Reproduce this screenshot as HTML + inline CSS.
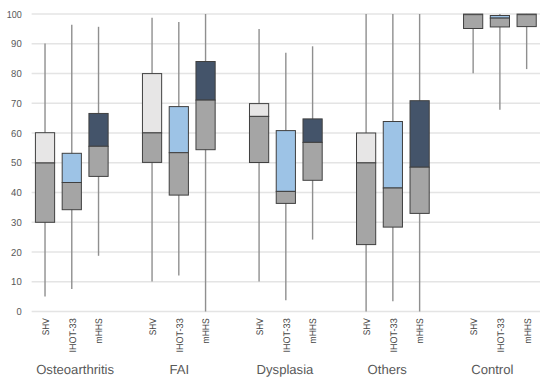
<!DOCTYPE html><html><head><meta charset="utf-8"><style>html,body{margin:0;padding:0;background:#fff;width:550px;height:384px;overflow:hidden;}svg{display:block;}text{font-family:"Liberation Sans",sans-serif;}</style></head><body>
<svg width="550" height="384" viewBox="0 0 550 384">
<rect width="550" height="384" fill="#fff"/>
<line x1="31.64" y1="311.48" x2="540.03" y2="311.48" stroke="#E4E4E4" stroke-width="1.4"/>
<line x1="31.64" y1="281.73" x2="540.03" y2="281.73" stroke="#E4E4E4" stroke-width="1.4"/>
<line x1="31.64" y1="251.97" x2="540.03" y2="251.97" stroke="#E4E4E4" stroke-width="1.4"/>
<line x1="31.64" y1="222.22" x2="540.03" y2="222.22" stroke="#E4E4E4" stroke-width="1.4"/>
<line x1="31.64" y1="192.46" x2="540.03" y2="192.46" stroke="#E4E4E4" stroke-width="1.4"/>
<line x1="31.64" y1="162.71" x2="540.03" y2="162.71" stroke="#E4E4E4" stroke-width="1.4"/>
<line x1="31.64" y1="132.95" x2="540.03" y2="132.95" stroke="#E4E4E4" stroke-width="1.4"/>
<line x1="31.64" y1="103.20" x2="540.03" y2="103.20" stroke="#E4E4E4" stroke-width="1.4"/>
<line x1="31.64" y1="73.44" x2="540.03" y2="73.44" stroke="#E4E4E4" stroke-width="1.4"/>
<line x1="31.64" y1="43.69" x2="540.03" y2="43.69" stroke="#E4E4E4" stroke-width="1.4"/>
<line x1="31.64" y1="13.93" x2="540.03" y2="13.93" stroke="#E4E4E4" stroke-width="1.4"/>
<text text-rendering="geometricPrecision" x="21.7" y="315.18" font-size="10.1" fill="#595959" text-anchor="end" textLength="5.2" lengthAdjust="spacingAndGlyphs">0</text>
<text text-rendering="geometricPrecision" x="21.7" y="285.43" font-size="10.1" fill="#595959" text-anchor="end" textLength="10.6" lengthAdjust="spacingAndGlyphs">10</text>
<text text-rendering="geometricPrecision" x="21.7" y="255.67" font-size="10.1" fill="#595959" text-anchor="end" textLength="10.6" lengthAdjust="spacingAndGlyphs">20</text>
<text text-rendering="geometricPrecision" x="21.7" y="225.92" font-size="10.1" fill="#595959" text-anchor="end" textLength="10.6" lengthAdjust="spacingAndGlyphs">30</text>
<text text-rendering="geometricPrecision" x="21.7" y="196.16" font-size="10.1" fill="#595959" text-anchor="end" textLength="10.6" lengthAdjust="spacingAndGlyphs">40</text>
<text text-rendering="geometricPrecision" x="21.7" y="166.41" font-size="10.1" fill="#595959" text-anchor="end" textLength="10.6" lengthAdjust="spacingAndGlyphs">50</text>
<text text-rendering="geometricPrecision" x="21.7" y="136.65" font-size="10.1" fill="#595959" text-anchor="end" textLength="10.6" lengthAdjust="spacingAndGlyphs">60</text>
<text text-rendering="geometricPrecision" x="21.7" y="106.90" font-size="10.1" fill="#595959" text-anchor="end" textLength="10.6" lengthAdjust="spacingAndGlyphs">70</text>
<text text-rendering="geometricPrecision" x="21.7" y="77.14" font-size="10.1" fill="#595959" text-anchor="end" textLength="10.6" lengthAdjust="spacingAndGlyphs">80</text>
<text text-rendering="geometricPrecision" x="21.7" y="47.39" font-size="10.1" fill="#595959" text-anchor="end" textLength="10.6" lengthAdjust="spacingAndGlyphs">90</text>
<text text-rendering="geometricPrecision" x="21.7" y="17.63" font-size="10.1" fill="#595959" text-anchor="end" textLength="15.0" lengthAdjust="spacingAndGlyphs">100</text>
<line x1="45.02" y1="43.60" x2="45.02" y2="296.50" stroke="#8f8f8f" stroke-width="1.4"/>
<line x1="71.78" y1="24.70" x2="71.78" y2="289.00" stroke="#8f8f8f" stroke-width="1.4"/>
<line x1="98.53" y1="26.80" x2="98.53" y2="255.80" stroke="#8f8f8f" stroke-width="1.4"/>
<line x1="152.05" y1="17.70" x2="152.05" y2="281.50" stroke="#8f8f8f" stroke-width="1.4"/>
<line x1="178.81" y1="22.10" x2="178.81" y2="275.50" stroke="#8f8f8f" stroke-width="1.4"/>
<line x1="205.56" y1="13.93" x2="205.56" y2="311.48" stroke="#8f8f8f" stroke-width="1.4"/>
<line x1="259.08" y1="29.00" x2="259.08" y2="281.50" stroke="#8f8f8f" stroke-width="1.4"/>
<line x1="285.83" y1="52.80" x2="285.83" y2="300.20" stroke="#8f8f8f" stroke-width="1.4"/>
<line x1="312.59" y1="46.30" x2="312.59" y2="239.60" stroke="#8f8f8f" stroke-width="1.4"/>
<line x1="366.11" y1="13.93" x2="366.11" y2="311.48" stroke="#8f8f8f" stroke-width="1.4"/>
<line x1="392.86" y1="13.93" x2="392.86" y2="301.30" stroke="#8f8f8f" stroke-width="1.4"/>
<line x1="419.62" y1="13.93" x2="419.62" y2="311.48" stroke="#8f8f8f" stroke-width="1.4"/>
<line x1="473.14" y1="13.93" x2="473.14" y2="73.20" stroke="#8f8f8f" stroke-width="1.4"/>
<line x1="499.89" y1="13.93" x2="499.89" y2="109.80" stroke="#8f8f8f" stroke-width="1.4"/>
<line x1="526.65" y1="13.93" x2="526.65" y2="69.10" stroke="#8f8f8f" stroke-width="1.4"/>
<rect x="35.42" y="132.70" width="19.20" height="30.30" fill="#E7E6E6" stroke="#404040" stroke-width="1.0"/>
<rect x="35.42" y="163.00" width="19.20" height="59.30" fill="#A5A5A5" stroke="#404040" stroke-width="1.0"/>
<rect x="62.18" y="153.30" width="19.20" height="29.20" fill="#9DC3E6" stroke="#404040" stroke-width="1.0"/>
<rect x="62.18" y="182.50" width="19.20" height="27.20" fill="#A5A5A5" stroke="#404040" stroke-width="1.0"/>
<rect x="88.93" y="113.45" width="19.20" height="32.85" fill="#44546A" stroke="#404040" stroke-width="1.0"/>
<rect x="88.93" y="146.30" width="19.20" height="30.10" fill="#A5A5A5" stroke="#404040" stroke-width="1.0"/>
<rect x="142.45" y="73.60" width="19.20" height="59.30" fill="#E7E6E6" stroke="#404040" stroke-width="1.0"/>
<rect x="142.45" y="132.90" width="19.20" height="29.50" fill="#A5A5A5" stroke="#404040" stroke-width="1.0"/>
<rect x="169.21" y="106.60" width="19.20" height="46.10" fill="#9DC3E6" stroke="#404040" stroke-width="1.0"/>
<rect x="169.21" y="152.70" width="19.20" height="42.40" fill="#A5A5A5" stroke="#404040" stroke-width="1.0"/>
<rect x="195.96" y="61.50" width="19.20" height="38.60" fill="#44546A" stroke="#404040" stroke-width="1.0"/>
<rect x="195.96" y="100.10" width="19.20" height="49.60" fill="#A5A5A5" stroke="#404040" stroke-width="1.0"/>
<rect x="249.48" y="103.60" width="19.20" height="12.80" fill="#E7E6E6" stroke="#404040" stroke-width="1.0"/>
<rect x="249.48" y="116.40" width="19.20" height="46.10" fill="#A5A5A5" stroke="#404040" stroke-width="1.0"/>
<rect x="276.23" y="130.60" width="19.20" height="60.80" fill="#9DC3E6" stroke="#404040" stroke-width="1.0"/>
<rect x="276.23" y="191.40" width="19.20" height="12.00" fill="#A5A5A5" stroke="#404040" stroke-width="1.0"/>
<rect x="302.99" y="118.90" width="19.20" height="23.50" fill="#44546A" stroke="#404040" stroke-width="1.0"/>
<rect x="302.99" y="142.40" width="19.20" height="37.90" fill="#A5A5A5" stroke="#404040" stroke-width="1.0"/>
<rect x="356.51" y="133.00" width="19.20" height="29.90" fill="#E7E6E6" stroke="#404040" stroke-width="1.0"/>
<rect x="356.51" y="162.90" width="19.20" height="81.70" fill="#A5A5A5" stroke="#404040" stroke-width="1.0"/>
<rect x="383.26" y="121.50" width="19.20" height="66.50" fill="#9DC3E6" stroke="#404040" stroke-width="1.0"/>
<rect x="383.26" y="188.00" width="19.20" height="39.10" fill="#A5A5A5" stroke="#404040" stroke-width="1.0"/>
<rect x="410.02" y="100.70" width="19.20" height="66.50" fill="#44546A" stroke="#404040" stroke-width="1.0"/>
<rect x="410.02" y="167.20" width="19.20" height="46.20" fill="#A5A5A5" stroke="#404040" stroke-width="1.0"/>
<rect x="463.54" y="14.10" width="19.20" height="14.40" fill="#A5A5A5" stroke="#404040" stroke-width="1.0"/>
<line x1="463.54" y1="14.70" x2="482.74" y2="14.70" stroke="#404040" stroke-width="0.8"/>
<rect x="490.29" y="15.50" width="19.20" height="2.60" fill="#9DC3E6" stroke="#404040" stroke-width="1.0"/>
<rect x="490.29" y="18.10" width="19.20" height="8.85" fill="#A5A5A5" stroke="#404040" stroke-width="1.0"/>
<rect x="517.05" y="14.10" width="19.20" height="12.50" fill="#A5A5A5" stroke="#404040" stroke-width="1.0"/>
<line x1="517.05" y1="14.70" x2="536.25" y2="14.70" stroke="#404040" stroke-width="0.8"/>
<text text-rendering="geometricPrecision" transform="translate(48.87,318.30) rotate(-90)" x="0" y="0" font-size="9.6" fill="#474747" text-anchor="end" textLength="17.0" lengthAdjust="spacingAndGlyphs">SHV</text>
<text text-rendering="geometricPrecision" transform="translate(75.63,318.30) rotate(-90)" x="0" y="0" font-size="9.6" fill="#474747" text-anchor="end" textLength="34.3" lengthAdjust="spacingAndGlyphs">IHOT-33</text>
<text text-rendering="geometricPrecision" transform="translate(102.38,318.30) rotate(-90)" x="0" y="0" font-size="9.6" fill="#474747" text-anchor="end" textLength="25.1" lengthAdjust="spacingAndGlyphs">mHHS</text>
<text text-rendering="geometricPrecision" transform="translate(155.90,318.30) rotate(-90)" x="0" y="0" font-size="9.6" fill="#474747" text-anchor="end" textLength="17.0" lengthAdjust="spacingAndGlyphs">SHV</text>
<text text-rendering="geometricPrecision" transform="translate(182.66,318.30) rotate(-90)" x="0" y="0" font-size="9.6" fill="#474747" text-anchor="end" textLength="34.3" lengthAdjust="spacingAndGlyphs">IHOT-33</text>
<text text-rendering="geometricPrecision" transform="translate(209.41,318.30) rotate(-90)" x="0" y="0" font-size="9.6" fill="#474747" text-anchor="end" textLength="25.1" lengthAdjust="spacingAndGlyphs">mHHS</text>
<text text-rendering="geometricPrecision" transform="translate(262.93,318.30) rotate(-90)" x="0" y="0" font-size="9.6" fill="#474747" text-anchor="end" textLength="17.0" lengthAdjust="spacingAndGlyphs">SHV</text>
<text text-rendering="geometricPrecision" transform="translate(289.69,318.30) rotate(-90)" x="0" y="0" font-size="9.6" fill="#474747" text-anchor="end" textLength="34.3" lengthAdjust="spacingAndGlyphs">IHOT-33</text>
<text text-rendering="geometricPrecision" transform="translate(316.44,318.30) rotate(-90)" x="0" y="0" font-size="9.6" fill="#474747" text-anchor="end" textLength="25.1" lengthAdjust="spacingAndGlyphs">mHHS</text>
<text text-rendering="geometricPrecision" transform="translate(369.96,318.30) rotate(-90)" x="0" y="0" font-size="9.6" fill="#474747" text-anchor="end" textLength="17.0" lengthAdjust="spacingAndGlyphs">SHV</text>
<text text-rendering="geometricPrecision" transform="translate(396.71,318.30) rotate(-90)" x="0" y="0" font-size="9.6" fill="#474747" text-anchor="end" textLength="34.3" lengthAdjust="spacingAndGlyphs">IHOT-33</text>
<text text-rendering="geometricPrecision" transform="translate(423.47,318.30) rotate(-90)" x="0" y="0" font-size="9.6" fill="#474747" text-anchor="end" textLength="25.1" lengthAdjust="spacingAndGlyphs">mHHS</text>
<text text-rendering="geometricPrecision" transform="translate(476.99,318.30) rotate(-90)" x="0" y="0" font-size="9.6" fill="#474747" text-anchor="end" textLength="17.0" lengthAdjust="spacingAndGlyphs">SHV</text>
<text text-rendering="geometricPrecision" transform="translate(503.74,318.30) rotate(-90)" x="0" y="0" font-size="9.6" fill="#474747" text-anchor="end" textLength="34.3" lengthAdjust="spacingAndGlyphs">IHOT-33</text>
<text text-rendering="geometricPrecision" transform="translate(530.50,318.30) rotate(-90)" x="0" y="0" font-size="9.6" fill="#474747" text-anchor="end" textLength="25.1" lengthAdjust="spacingAndGlyphs">mHHS</text>
<text text-rendering="geometricPrecision" x="36.20" y="373.6" font-size="13.1" fill="#595959">Osteoarthritis</text>
<text text-rendering="geometricPrecision" x="169.40" y="373.6" font-size="13.1" fill="#595959">FAI</text>
<text text-rendering="geometricPrecision" x="256.60" y="373.6" font-size="13.1" fill="#595959">Dysplasia</text>
<text text-rendering="geometricPrecision" x="367.60" y="373.6" font-size="13.1" fill="#595959">Others</text>
<text text-rendering="geometricPrecision" x="471.20" y="373.6" font-size="13.1" fill="#595959">Control</text>
</svg></body></html>
